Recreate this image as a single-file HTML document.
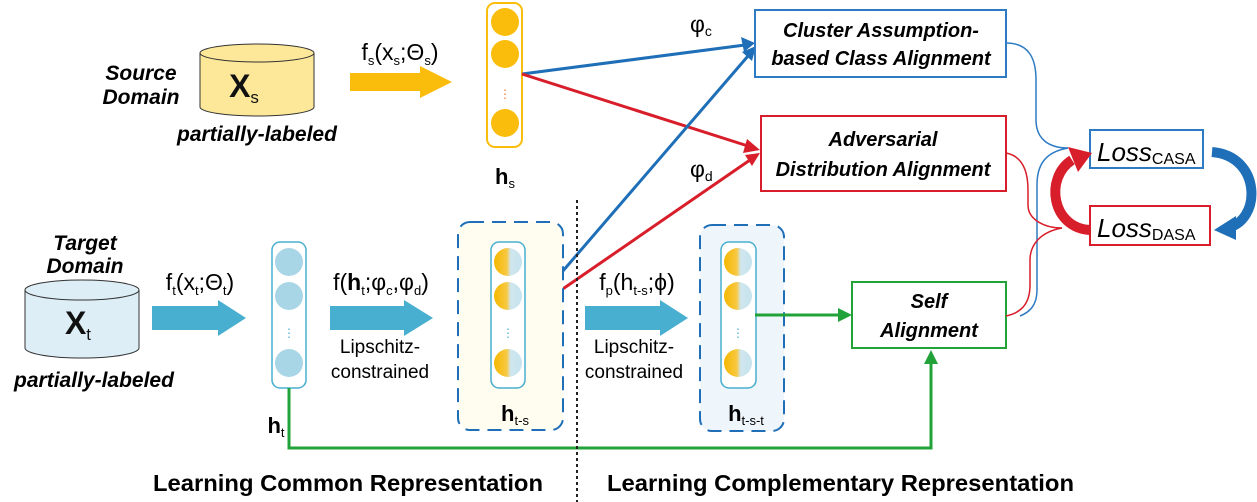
<!DOCTYPE html>
<html><head><meta charset="utf-8"><style>
html,body{margin:0;padding:0;background:#fff;}
svg{display:block;font-family:"Liberation Sans",sans-serif;}
.it{font-style:italic;font-weight:bold;}
</style></head><body>
<svg width="1257" height="502" viewBox="0 0 1257 502" xmlns="http://www.w3.org/2000/svg">
<defs>
<linearGradient id="hg" x1="0" x2="1" y1="0" y2="0">
<stop offset="0" stop-color="#f5b800"/><stop offset="0.45" stop-color="#f8c840"/><stop offset="0.6" stop-color="#cfe6ee"/><stop offset="1" stop-color="#c6e3ee"/>
</linearGradient>
</defs>

<!-- Source cylinder -->
<path d="M200,53 L200,107 A57,9 0 0 0 314,107 L314,53" fill="#fde89a" stroke="#333" stroke-width="1"/>
<ellipse cx="257" cy="53" rx="57" ry="9" fill="#fde89a" stroke="#333" stroke-width="1"/>
<text x="244" y="97" font-size="32" font-weight="bold" text-anchor="middle" fill="#111">X<tspan font-size="17" font-weight="normal" dy="6">s</tspan></text>
<text x="141" y="80" class="it" font-size="21" text-anchor="middle">Source</text>
<text x="141" y="104" class="it" font-size="21" text-anchor="middle">Domain</text>
<text x="257" y="141" class="it" font-size="21" text-anchor="middle">partially-labeled</text>

<!-- yellow arrow -->
<path d="M350,73 L420,73 L420,66 L452,82 L420,98 L420,91 L350,91 z" fill="#fbbd0c"/>
<text x="400" y="60" font-size="23" text-anchor="middle">f<tspan font-size="13" dy="5">s</tspan><tspan dy="-5">(x</tspan><tspan font-size="13" dy="5">s</tspan><tspan dy="-5">;Θ</tspan><tspan font-size="13" dy="5">s</tspan><tspan dy="-5">)</tspan></text>

<!-- hs column -->
<rect x="487" y="3" width="35" height="144" rx="8" fill="#fff" stroke="#fbbd0c" stroke-width="2"/>
<circle cx="505" cy="22" r="14" fill="#fbbd0c"/>
<circle cx="505" cy="54" r="14" fill="#fbbd0c"/>
<circle cx="505" cy="123" r="14" fill="#fbbd0c"/>
<text x="505" y="98" font-size="12" fill="#f08030" text-anchor="middle">⋮</text>
<text x="505" y="184" font-size="22" font-weight="bold" text-anchor="middle">h<tspan font-size="13" font-weight="normal" dy="4">s</tspan></text>

<!-- lines from hs and hts -->
<line x1="522" y1="74" x2="745" y2="45" stroke="#1f6fb8" stroke-width="3"/>
<path d="M755,43 L741,37 L744,52 z" fill="#1f6fb8"/>
<line x1="522" y1="74" x2="748" y2="146" stroke="#d81e2a" stroke-width="3"/>
<path d="M760,150 L747,139 L743,153 z" fill="#d81e2a"/>
<line x1="525" y1="315" x2="748" y2="56" stroke="#1f6fb8" stroke-width="3"/>
<path d="M756,46 L742,52 L752,61 z" fill="#1f6fb8"/>
<line x1="525" y1="315" x2="750" y2="160" stroke="#d81e2a" stroke-width="3"/>
<path d="M760,153 L745,155 L752,166 z" fill="#d81e2a"/>
<text x="690" y="32" font-size="23">φ<tspan font-size="14" dy="4">c</tspan></text>
<text x="690" y="177" font-size="23">φ<tspan font-size="14" dy="4">d</tspan></text>

<!-- boxes -->
<rect x="755" y="10" width="251" height="67" fill="#fff" stroke="#2e7bc4" stroke-width="2"/>
<text x="881" y="37" class="it" font-size="20" text-anchor="middle">Cluster  Assumption-</text>
<text x="881" y="65" class="it" font-size="20" text-anchor="middle">based Class Alignment</text>
<rect x="761" y="116" width="245" height="75" fill="#fff" stroke="#d81e2a" stroke-width="2"/>
<text x="883" y="146" class="it" font-size="20" text-anchor="middle">Adversarial</text>
<text x="883" y="176" class="it" font-size="20" text-anchor="middle">Distribution Alignment</text>
<rect x="852" y="282" width="154" height="66" fill="#fff" stroke="#22a33a" stroke-width="2"/>
<text x="929" y="308" class="it" font-size="20" text-anchor="middle">Self</text>
<text x="929" y="337" class="it" font-size="20" text-anchor="middle">Alignment</text>

<rect x="1090" y="130" width="113" height="38" fill="#fff" stroke="#2e7bc4" stroke-width="2"/>
<text x="1097" y="161" font-size="26" font-style="italic">Loss<tspan font-size="16" font-style="normal" dy="3">CASA</tspan></text>
<rect x="1090" y="206" width="120" height="39" fill="#fff" stroke="#d81e2a" stroke-width="2"/>
<text x="1097" y="237" font-size="26" font-style="italic">Loss<tspan font-size="16" font-style="normal" dy="3">DASA</tspan></text>

<!-- thin connectors to losses -->
<path d="M1006,43 C1030,43 1036,60 1036,80 L1036,120 C1036,140 1050,148 1068,148" fill="none" stroke="#2e7bc4" stroke-width="1.5"/>
<path d="M1068,148 C1045,152 1037,165 1037,185 L1037,290 C1037,305 1030,312 1020,316" fill="none" stroke="#2e7bc4" stroke-width="1.5"/>
<path d="M1006,153 C1022,156 1028,170 1028,190 L1028,205 C1028,220 1045,228 1062,228" fill="none" stroke="#d81e2a" stroke-width="1.5"/>
<path d="M1062,228 C1040,232 1030,245 1030,260 L1030,285 C1030,305 1020,313 1006,316" fill="none" stroke="#d81e2a" stroke-width="1.5"/>

<!-- thick curved arrows -->
<path d="M1090,230 C1052,228 1044,178 1072,160" fill="none" stroke="#d81e2a" stroke-width="10"/>
<path d="M1092,153 L1068,147 L1078,172 z" fill="#d81e2a"/>
<path d="M1212,152 C1262,156 1262,222 1226,228" fill="none" stroke="#1f6fb8" stroke-width="10"/>
<path d="M1214,230 L1236,216 L1236,240 z" fill="#1f6fb8"/>

<!-- Target cylinder -->
<path d="M25,290 L25,348 A57,10 0 0 0 139,348 L139,290" fill="#ddeef7" stroke="#333" stroke-width="1"/>
<ellipse cx="82" cy="290" rx="57" ry="10" fill="#ddeef7" stroke="#333" stroke-width="1"/>
<text x="78" y="334" font-size="32" font-weight="bold" text-anchor="middle" fill="#111">X<tspan font-size="17" font-weight="normal" dy="6">t</tspan></text>
<text x="85" y="250" class="it" font-size="21" text-anchor="middle">Target</text>
<text x="85" y="273" class="it" font-size="21" text-anchor="middle">Domain</text>
<text x="94" y="387" class="it" font-size="21" text-anchor="middle">partially-labeled</text>

<!-- blue arrows -->
<path d="M152,306 L218,306 L218,300 L246,318 L218,336 L218,330 L152,330 z" fill="#49afd0"/>
<path d="M330,306 L404,306 L404,300 L433,318 L404,336 L404,330 L330,330 z" fill="#49afd0"/>
<path d="M585,306 L660,306 L660,300 L688,318 L660,336 L660,330 L585,330 z" fill="#49afd0"/>
<text x="200" y="290" font-size="23" text-anchor="middle">f<tspan font-size="13" dy="5">t</tspan><tspan dy="-5">(x</tspan><tspan font-size="13" dy="5">t</tspan><tspan dy="-5">;Θ</tspan><tspan font-size="13" dy="5">t</tspan><tspan dy="-5">)</tspan></text>
<text x="381" y="290" font-size="23" text-anchor="middle">f(<tspan font-weight="bold">h</tspan><tspan font-size="13" dy="5">t</tspan><tspan dy="-5">;φ</tspan><tspan font-size="13" dy="5">c</tspan><tspan dy="-5">,φ</tspan><tspan font-size="13" dy="5">d</tspan><tspan dy="-5">)</tspan></text>
<text x="380" y="353" font-size="19" text-anchor="middle">Lipschitz-</text>
<text x="380" y="378" font-size="19" text-anchor="middle">constrained</text>
<text x="637" y="290" font-size="23" text-anchor="middle">f<tspan font-size="13" dy="5">p</tspan><tspan dy="-5">(h</tspan><tspan font-size="13" dy="5">t-s</tspan><tspan dy="-5">;ϕ)</tspan></text>
<text x="634" y="353" font-size="19" text-anchor="middle">Lipschitz-</text>
<text x="634" y="378" font-size="19" text-anchor="middle">constrained</text>

<!-- ht column -->
<rect x="272" y="242" width="34" height="146" rx="8" fill="#fff" stroke="#49afd0" stroke-width="1.5"/>
<circle cx="289" cy="262" r="14" fill="#a8d6e6"/>
<circle cx="289" cy="296" r="14" fill="#a8d6e6"/>
<circle cx="289" cy="363" r="14" fill="#a8d6e6"/>
<text x="289" y="337" font-size="12" fill="#49afd0" text-anchor="middle">⋮</text>
<text x="276" y="433" font-size="22" font-weight="bold" text-anchor="middle">h<tspan font-size="13" font-weight="normal" dy="4">t</tspan></text>

<!-- hts dashed box -->
<rect x="458" y="222" width="105" height="208" rx="12" fill="#fffcf0" stroke="#1f6fb8" stroke-width="2" stroke-dasharray="14,8"/>
<rect x="491" y="242" width="34" height="146" rx="8" fill="#fff" stroke="#49afd0" stroke-width="1.5"/>
<circle cx="508" cy="262" r="14" fill="url(#hg)"/>
<circle cx="508" cy="296" r="14" fill="url(#hg)"/>
<circle cx="508" cy="363" r="14" fill="url(#hg)"/>
<text x="508" y="337" font-size="12" fill="#49afd0" text-anchor="middle">⋮</text>
<text x="515" y="421" font-size="22" font-weight="bold" text-anchor="middle">h<tspan font-size="13" font-weight="normal" dy="4">t-s</tspan></text>

<!-- htst dashed box -->
<rect x="700" y="225" width="84" height="206" rx="12" fill="#eef5fb" stroke="#1f6fb8" stroke-width="2" stroke-dasharray="14,8"/>
<rect x="721" y="242" width="35" height="146" rx="8" fill="#fff" stroke="#49afd0" stroke-width="1.5"/>
<circle cx="738" cy="262" r="14" fill="url(#hg)"/>
<circle cx="738" cy="296" r="14" fill="url(#hg)"/>
<circle cx="738" cy="363" r="14" fill="url(#hg)"/>
<text x="738" y="337" font-size="12" fill="#49afd0" text-anchor="middle">⋮</text>
<text x="746" y="421" font-size="22" font-weight="bold" text-anchor="middle">h<tspan font-size="13" font-weight="normal" dy="4">t-s-t</tspan></text>

<!-- green connectors -->
<line x1="755" y1="315" x2="840" y2="315" stroke="#22a33a" stroke-width="3"/>
<path d="M852,315 L838,308 L838,322 z" fill="#22a33a"/>
<path d="M289,388 L289,448 L931,448 L931,362" fill="none" stroke="#22a33a" stroke-width="3"/>
<path d="M931,350 L924,364 L938,364 z" fill="#22a33a"/>

<!-- divider -->
<line x1="577" y1="200" x2="577" y2="502" stroke="#222" stroke-width="2" stroke-dasharray="3,3"/>

<text x="153" y="491" font-size="23" font-weight="bold" textLength="390" lengthAdjust="spacingAndGlyphs">Learning Common Representation</text>
<text x="607" y="491" font-size="23" font-weight="bold" textLength="467" lengthAdjust="spacingAndGlyphs">Learning Complementary Representation</text>
</svg>
</body></html>
